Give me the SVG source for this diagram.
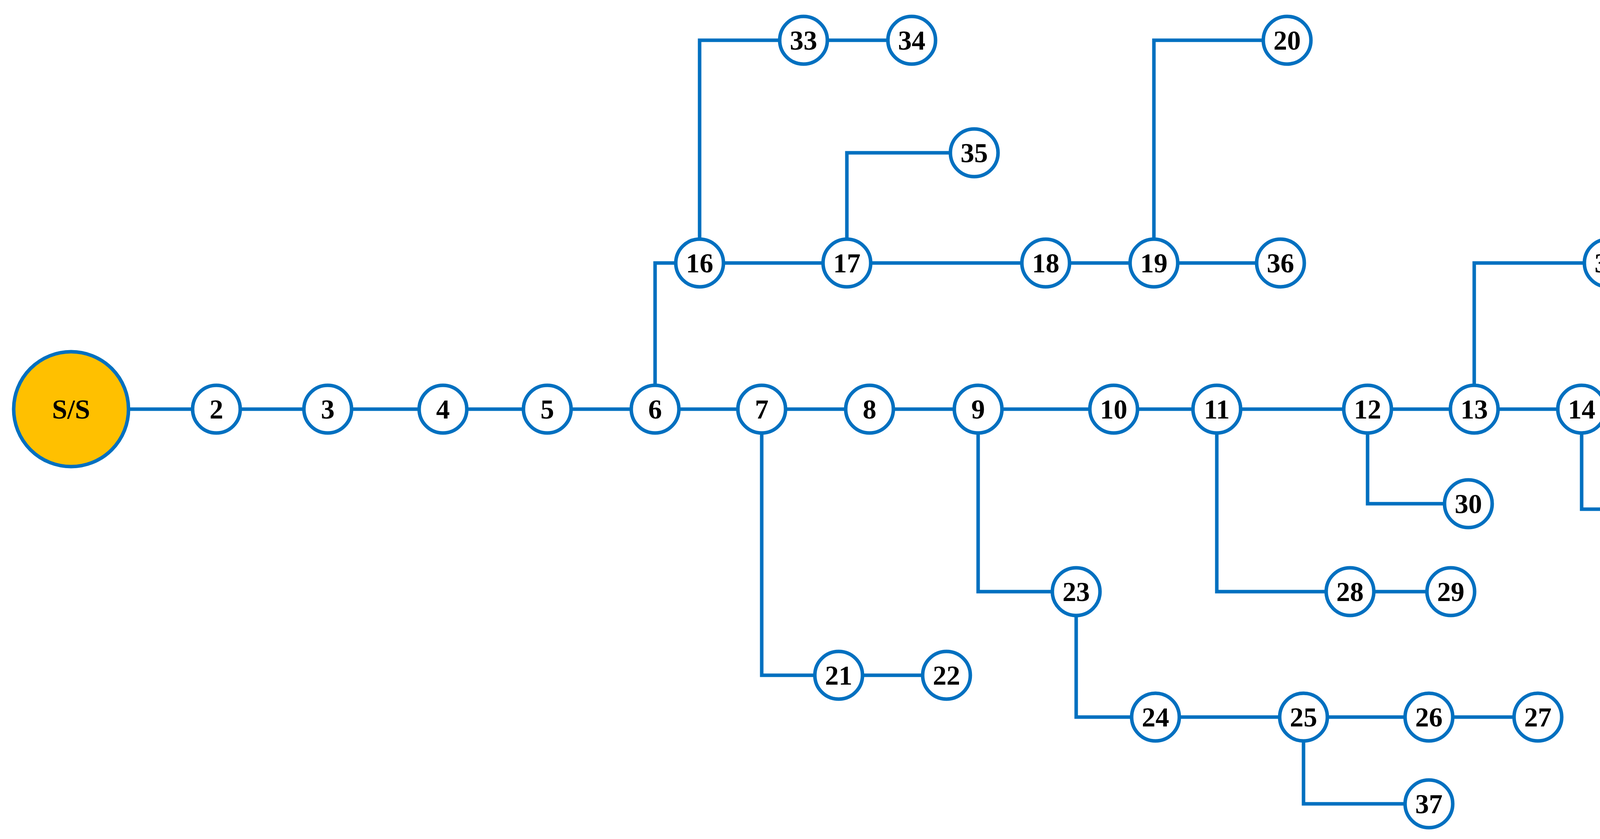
<svg xmlns="http://www.w3.org/2000/svg" width="4412" height="2147" viewBox="0 0 4412 2147">
<style>
.c{fill:#fff;stroke:#0070C0;stroke-width:9}
.s{fill:#FFC000;stroke:#0070C0;stroke-width:9}
.t{font-family:"Liberation Serif",serif;font-weight:bold;font-size:70px;text-anchor:middle;dominant-baseline:central;fill:#000}
#edges path{fill:none;stroke:#0070C0;stroke-width:9}
</style>
<rect width="4412" height="2147" fill="#fff"/>
<g id="edges">
<path d="M182 1047H4328"/>
<path d="M1677 1047V673H3278"/>
<path d="M1791 673V103H2334"/>
<path d="M2168 673V391H2494"/>
<path d="M2954 673V103H3295"/>
<path d="M1950 1047V1728H2423"/>
<path d="M2504 1047V1514H2755"/>
<path d="M2755 1514V1835H3937"/>
<path d="M3337 1835V2057H3658"/>
<path d="M3115 1047V1514H3714"/>
<path d="M3501 1047V1289H3759"/>
<path d="M3774 1047V673H4117"/>
<path d="M4049 1047V1303H4325"/>
</g>
<g id="nSS"><circle class="s" cx="182" cy="1047" r="147"/><text class="t" x="182" y="1047">S/S</text></g>
<g id="n2"><circle class="c" cx="554" cy="1047" r="61"/><text class="t" x="554" y="1047">2</text></g>
<g id="n3"><circle class="c" cx="839" cy="1047" r="61"/><text class="t" x="839" y="1047">3</text></g>
<g id="n4"><circle class="c" cx="1134" cy="1047" r="61"/><text class="t" x="1134" y="1047">4</text></g>
<g id="n5"><circle class="c" cx="1401" cy="1047" r="61"/><text class="t" x="1401" y="1047">5</text></g>
<g id="n6"><circle class="c" cx="1677" cy="1047" r="61"/><text class="t" x="1677" y="1047">6</text></g>
<g id="n7"><circle class="c" cx="1950" cy="1047" r="61"/><text class="t" x="1950" y="1047">7</text></g>
<g id="n8"><circle class="c" cx="2226" cy="1047" r="61"/><text class="t" x="2226" y="1047">8</text></g>
<g id="n9"><circle class="c" cx="2504" cy="1047" r="61"/><text class="t" x="2504" y="1047">9</text></g>
<g id="n10"><circle class="c" cx="2851" cy="1047" r="61"/><text class="t" x="2851" y="1047">10</text></g>
<g id="n11"><circle class="c" cx="3115" cy="1047" r="61"/><text class="t" x="3115" y="1047">11</text></g>
<g id="n12"><circle class="c" cx="3501" cy="1047" r="61"/><text class="t" x="3501" y="1047">12</text></g>
<g id="n13"><circle class="c" cx="3774" cy="1047" r="61"/><text class="t" x="3774" y="1047">13</text></g>
<g id="n14"><circle class="c" cx="4049" cy="1047" r="61"/><text class="t" x="4049" y="1047">14</text></g>
<g id="n15"><circle class="c" cx="4328" cy="1047" r="61"/><text class="t" x="4328" y="1047">15</text></g>
<g id="n16"><circle class="c" cx="1791" cy="673" r="61"/><text class="t" x="1791" y="673">16</text></g>
<g id="n17"><circle class="c" cx="2168" cy="673" r="61"/><text class="t" x="2168" y="673">17</text></g>
<g id="n18"><circle class="c" cx="2677" cy="673" r="61"/><text class="t" x="2677" y="673">18</text></g>
<g id="n19"><circle class="c" cx="2954" cy="673" r="61"/><text class="t" x="2954" y="673">19</text></g>
<g id="n36"><circle class="c" cx="3278" cy="673" r="61"/><text class="t" x="3278" y="673">36</text></g>
<g id="n33"><circle class="c" cx="2057" cy="103" r="61"/><text class="t" x="2057" y="103">33</text></g>
<g id="n34"><circle class="c" cx="2334" cy="103" r="61"/><text class="t" x="2334" y="103">34</text></g>
<g id="n35"><circle class="c" cx="2494" cy="391" r="61"/><text class="t" x="2494" y="391">35</text></g>
<g id="n20"><circle class="c" cx="3295" cy="103" r="61"/><text class="t" x="3295" y="103">20</text></g>
<g id="n31"><circle class="c" cx="4117" cy="673" r="61"/><text class="t" x="4117" y="673">31</text></g>
<g id="n30"><circle class="c" cx="3759" cy="1289" r="61"/><text class="t" x="3759" y="1289">30</text></g>
<g id="n32"><circle class="c" cx="4325" cy="1303" r="61"/><text class="t" x="4325" y="1303">32</text></g>
<g id="n23"><circle class="c" cx="2755" cy="1514" r="61"/><text class="t" x="2755" y="1514">23</text></g>
<g id="n28"><circle class="c" cx="3456" cy="1514" r="61"/><text class="t" x="3456" y="1514">28</text></g>
<g id="n29"><circle class="c" cx="3714" cy="1514" r="61"/><text class="t" x="3714" y="1514">29</text></g>
<g id="n21"><circle class="c" cx="2147" cy="1728" r="61"/><text class="t" x="2147" y="1728">21</text></g>
<g id="n22"><circle class="c" cx="2423" cy="1728" r="61"/><text class="t" x="2423" y="1728">22</text></g>
<g id="n24"><circle class="c" cx="2958" cy="1835" r="61"/><text class="t" x="2958" y="1835">24</text></g>
<g id="n25"><circle class="c" cx="3337" cy="1835" r="61"/><text class="t" x="3337" y="1835">25</text></g>
<g id="n26"><circle class="c" cx="3658" cy="1835" r="61"/><text class="t" x="3658" y="1835">26</text></g>
<g id="n27"><circle class="c" cx="3937" cy="1835" r="61"/><text class="t" x="3937" y="1835">27</text></g>
<g id="n37"><circle class="c" cx="3658" cy="2057" r="61"/><text class="t" x="3658" y="2057">37</text></g>
</svg>
